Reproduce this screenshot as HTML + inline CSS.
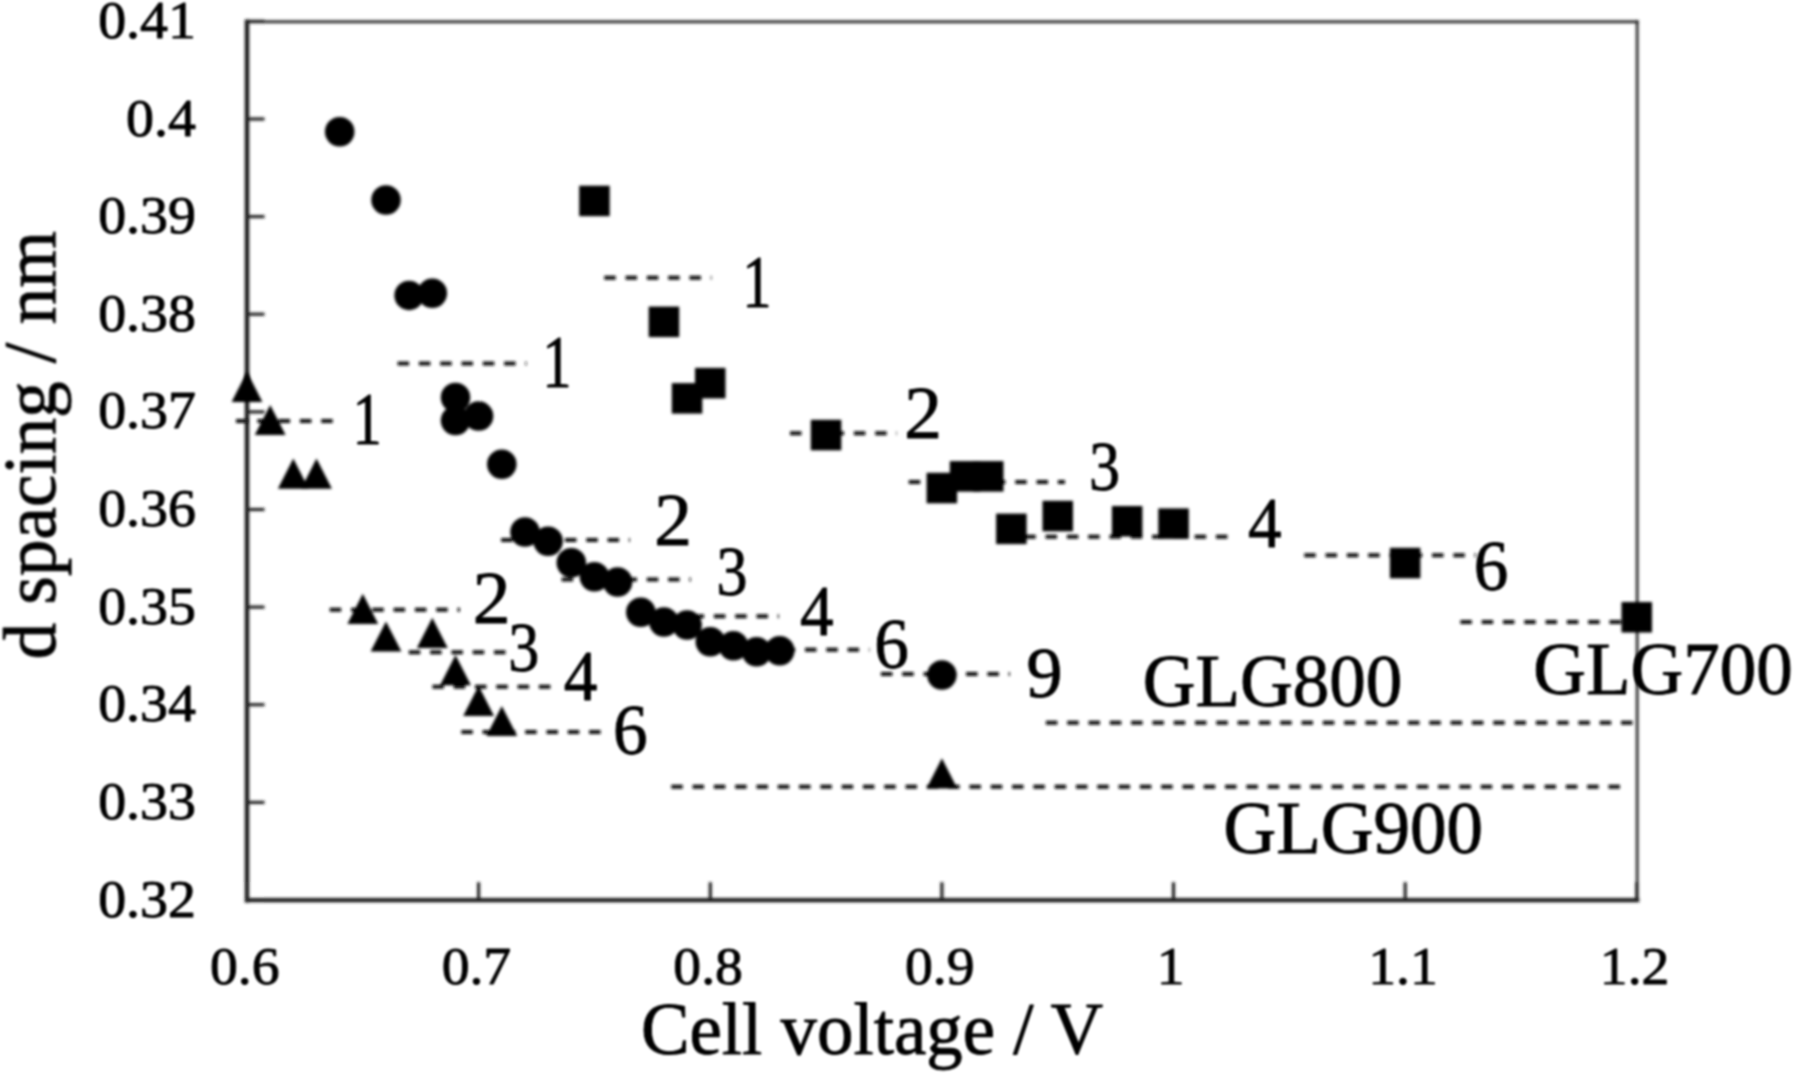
<!DOCTYPE html>
<html><head><meta charset="utf-8"><title>d spacing vs cell voltage</title>
<style>html,body{margin:0;padding:0;background:#fff;overflow:hidden;}svg{display:block;}text{font-family:"Liberation Serif","Times New Roman",serif;fill:#000;stroke:#000;stroke-width:0.9px;stroke-linejoin:round;}</style></head><body>
<svg width="1800" height="1075" viewBox="0 0 1800 1075">
<defs><filter id="b" x="-2%" y="-2%" width="104%" height="104%"><feGaussianBlur stdDeviation="1.5"/></filter><filter id="t" x="-2%" y="-2%" width="104%" height="104%"><feGaussianBlur stdDeviation="1.0"/></filter></defs>
<rect width="1800" height="1075" fill="#fff"/>
<g filter="url(#b)">
<g fill="none" stroke-linecap="square"><line x1="247.0" y1="21.7" x2="1637.2" y2="21.7" stroke="#333" stroke-width="3"/><line x1="1637.2" y1="21.7" x2="1637.2" y2="900.2" stroke="#2a2a2a" stroke-width="2.8"/><line x1="247.0" y1="900.2" x2="1637.2" y2="900.2" stroke="#1a1a1a" stroke-width="4.2"/><line x1="247.0" y1="21.7" x2="247.0" y2="900.2" stroke="#1a1a1a" stroke-width="4.4"/></g>
<g stroke="#222" stroke-width="3.2" fill="none"><line x1="247.0" y1="900.0" x2="264.5" y2="900.0"/><line x1="247.0" y1="802.4" x2="264.5" y2="802.4"/><line x1="247.0" y1="704.7" x2="264.5" y2="704.7"/><line x1="247.0" y1="607.1" x2="264.5" y2="607.1"/><line x1="247.0" y1="509.5" x2="264.5" y2="509.5"/><line x1="247.0" y1="411.9" x2="264.5" y2="411.9"/><line x1="247.0" y1="314.2" x2="264.5" y2="314.2"/><line x1="247.0" y1="216.6" x2="264.5" y2="216.6"/><line x1="247.0" y1="119.0" x2="264.5" y2="119.0"/><line x1="247.0" y1="21.3" x2="264.5" y2="21.3"/><line x1="247.0" y1="900.2" x2="247.0" y2="882.2"/><line x1="478.6" y1="900.2" x2="478.6" y2="882.2"/><line x1="710.3" y1="900.2" x2="710.3" y2="882.2"/><line x1="941.9" y1="900.2" x2="941.9" y2="882.2"/><line x1="1173.5" y1="900.2" x2="1173.5" y2="882.2"/><line x1="1405.2" y1="900.2" x2="1405.2" y2="882.2"/><line x1="1636.8" y1="900.2" x2="1636.8" y2="882.2"/></g>
</g>
<g filter="url(#t)">
<g font-size="53" text-anchor="end"><text transform="translate(196 916.5) scale(1.055 1)">0.32</text><text transform="translate(196 818.9) scale(1.055 1)">0.33</text><text transform="translate(196 721.2) scale(1.055 1)">0.34</text><text transform="translate(196 623.6) scale(1.055 1)">0.35</text><text transform="translate(196 526.0) scale(1.055 1)">0.36</text><text transform="translate(196 428.4) scale(1.055 1)">0.37</text><text transform="translate(196 330.7) scale(1.055 1)">0.38</text><text transform="translate(196 233.1) scale(1.055 1)">0.39</text><text transform="translate(196 135.5) scale(1.055 1)">0.4</text><text transform="translate(196 37.8) scale(1.055 1)">0.41</text></g>
<g font-size="53" text-anchor="middle"><text transform="translate(244.8 983.7) scale(1.05 1)">0.6</text><text transform="translate(476.4 983.7) scale(1.05 1)">0.7</text><text transform="translate(708.1 983.7) scale(1.05 1)">0.8</text><text transform="translate(939.7 983.7) scale(1.05 1)">0.9</text><text transform="translate(1170.6 983.7) scale(1.05 1)">1</text><text transform="translate(1403.0 983.7) scale(1.05 1)">1.1</text><text transform="translate(1634.6 983.7) scale(1.05 1)">1.2</text></g>
<text font-size="74" text-anchor="middle" transform="translate(872 1053.5) scale(0.985 1)">Cell voltage / V</text>
<text font-size="74" text-anchor="middle" transform="translate(55.2,445.2) rotate(-90) scale(0.988 1)">d spacing / nm</text>
</g>
<g filter="url(#b)">
<g stroke="#111" stroke-width="4" stroke-dasharray="11.5 9.8" fill="none"><line x1="236.0" y1="421.0" x2="334.0" y2="421.0"/><line x1="329.7" y1="609.8" x2="460.0" y2="609.8"/><line x1="408.8" y1="652.3" x2="506.0" y2="652.3"/><line x1="432.4" y1="686.8" x2="551.0" y2="686.8"/><line x1="461.3" y1="732.1" x2="601.0" y2="732.1"/><line x1="671.25" y1="786.8" x2="1621.0" y2="786.8"/><line x1="397.6" y1="363.4" x2="526.5" y2="363.4"/><line x1="501.1" y1="540.0" x2="630.0" y2="540.0"/><line x1="561.6" y1="579.6" x2="690.8" y2="579.6"/><line x1="650.0" y1="616.2" x2="779.0" y2="616.2"/><line x1="762.4" y1="649.8" x2="869.5" y2="649.8"/><line x1="880.9" y1="674.0" x2="1010.0" y2="674.0"/><line x1="1045.9" y1="722.8" x2="1634.0" y2="722.8"/><line x1="604.25" y1="277.8" x2="711.5" y2="277.8"/><line x1="790.0" y1="433.2" x2="897.0" y2="433.2"/><line x1="908.75" y1="482.0" x2="1065.0" y2="482.0"/><line x1="1002.95" y1="536.7" x2="1228.5" y2="536.7"/><line x1="1304.25" y1="555.2" x2="1476.0" y2="555.2"/><line x1="1460.35" y1="622.0" x2="1623.0" y2="622.0"/></g>
<g fill="#000"><circle cx="339.7" cy="131.7" r="14.75"/><circle cx="386.0" cy="200" r="14.75"/><circle cx="409.1" cy="295.4" r="14.75"/><circle cx="432.3" cy="293.2" r="14.75"/><circle cx="455.5" cy="397.5" r="14.75"/><circle cx="455.5" cy="420.6" r="14.75"/><circle cx="478.6" cy="416.1" r="14.75"/><circle cx="501.8" cy="464.3" r="14.75"/><circle cx="525.0" cy="532" r="14.75"/><circle cx="548.1" cy="541.3" r="14.75"/><circle cx="571.3" cy="562.7" r="14.75"/><circle cx="594.4" cy="576.7" r="14.75"/><circle cx="617.6" cy="582" r="14.75"/><circle cx="640.8" cy="612.3" r="14.75"/><circle cx="663.9" cy="622" r="14.75"/><circle cx="687.1" cy="625" r="14.75"/><circle cx="710.3" cy="641.7" r="14.75"/><circle cx="733.4" cy="645.8" r="14.75"/><circle cx="756.6" cy="651.7" r="14.75"/><circle cx="779.7" cy="650.8" r="14.75"/><circle cx="941.9" cy="675" r="14.75"/><rect x="579.2" y="185.7" width="30.5" height="30.5"/><rect x="648.7" y="306.6" width="30.5" height="30.5"/><rect x="671.8" y="383.1" width="30.5" height="30.5"/><rect x="695.0" y="367.9" width="30.5" height="30.5"/><rect x="810.8" y="419.8" width="30.5" height="30.5"/><rect x="926.6" y="472.8" width="30.5" height="30.5"/><rect x="949.8" y="461.1" width="30.5" height="30.5"/><rect x="973.0" y="461.1" width="30.5" height="30.5"/><rect x="996.1" y="513.6" width="30.5" height="30.5"/><rect x="1042.5" y="500.8" width="30.5" height="30.5"/><rect x="1111.9" y="506.0" width="30.5" height="30.5"/><rect x="1158.3" y="508.4" width="30.5" height="30.5"/><rect x="1389.9" y="547.8" width="30.5" height="30.5"/><rect x="1621.5" y="602.0" width="30.5" height="30.5"/><path d="M247.0 371.7L262.4 401.9L231.6 401.9Z"/><path d="M270.2 404.9L285.6 435.1L254.8 435.1Z"/><path d="M293.3 458.5L308.7 488.7L277.9 488.7Z"/><path d="M316.5 458.5L331.9 488.7L301.1 488.7Z"/><path d="M362.8 593.7L378.2 623.9L347.4 623.9Z"/><path d="M386.0 621.4L401.4 651.6L370.6 651.6Z"/><path d="M432.3 617.8L447.7 648.0L416.9 648.0Z"/><path d="M455.5 655.1L470.9 685.3L440.1 685.3Z"/><path d="M478.6 685.8L494.0 716.0L463.2 716.0Z"/><path d="M501.8 705.9L517.2 736.1L486.4 736.1Z"/><path d="M941.9 758.3L957.3 788.5L926.5 788.5Z"/></g>
</g>
<g filter="url(#t)">
<g text-anchor="middle"><text font-size="73.3" transform="translate(367.2 444.1) scale(0.8 1)">1</text><text font-size="73.3" transform="translate(491.6 623.4) scale(1.03 1)">2</text><text font-size="70" transform="translate(523.7 671.4) scale(0.885 1)">3</text><text font-size="72.3" transform="translate(580.5 699.5) scale(0.93 1)">4</text><text font-size="71.7" transform="translate(630.2 753.5) scale(0.963 1)">6</text><text font-size="73.3" transform="translate(556.8 386.5) scale(0.8 1)">1</text><text font-size="73.3" transform="translate(673.0 544.5) scale(1.03 1)">2</text><text font-size="70" transform="translate(732.0 594.8) scale(0.885 1)">3</text><text font-size="72.3" transform="translate(816.9 635.3) scale(0.93 1)">4</text><text font-size="71.7" transform="translate(891.6 668.3) scale(0.963 1)">6</text><text font-size="72.9" transform="translate(1044.5 697.1) scale(0.987 1)">9</text><text font-size="73.3" transform="translate(756.9 307.4) scale(0.8 1)">1</text><text font-size="73.3" transform="translate(923.1 437.5) scale(1.03 1)">2</text><text font-size="70" transform="translate(1104.6 489.5) scale(0.885 1)">3</text><text font-size="72.3" transform="translate(1264.8 547.1) scale(0.93 1)">4</text><text font-size="71.7" transform="translate(1491.1 589.6) scale(0.963 1)">6</text></g>
<g font-size="73" text-anchor="middle"><text x="1272.5" y="706.1">GLG800</text><text x="1663.0" y="693.6">GLG700</text><text x="1353.2" y="852.5">GLG900</text></g>
</g>
</svg>
</body></html>
